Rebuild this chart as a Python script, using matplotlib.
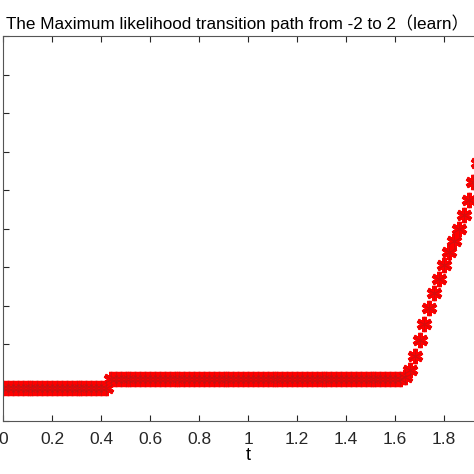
import numpy as np
import matplotlib.pyplot as plt

plt.rcParams['font.family'] = ['Liberation Sans', 'DejaVu Sans']

t = np.arange(0, 2.001, 0.02)
seg1 = [-2.07] * 22
seg2 = [-1.95] * 59
rise = [-1.95, -1.93, -1.84, -1.65, -1.45, -1.24, -1.03, -0.84, -0.65, -0.47,
        -0.31, -0.16, 0.0, 0.18, 0.37, 0.60, 0.85, 1.15, 1.5, 2.0]
x = np.array(seg1 + seg2 + rise)

fig = plt.figure(figsize=(4.74, 4.74), dpi=100)
ax = fig.add_axes([3/474, 53/474, 490/474, 385/474])
ax.plot(t, x, linestyle='none', marker=(6, 2, 0), color='red', markersize=11,
        markeredgecolor='red', markeredgewidth=3.2)
ax.plot(t, x, linestyle='none', marker=(6, 2, 0), markersize=11,
        markeredgecolor='#b01818', markeredgewidth=0.6, alpha=0.5)
ax.set_xlim(0, 2)
ax.set_ylim(-2.5, 2.5)
ax.set_xticks(np.arange(0, 2.01, 0.2))
ax.set_xticklabels(['0', '0.2', '0.4', '0.6', '0.8', '1', '1.2', '1.4', '1.6', '1.8', '2'])
ax.set_yticks(np.arange(-2.5, 2.51, 0.5))
ax.tick_params(direction='in', top=True, right=True, labelsize=12.5, colors='#262626',
               length=4, pad=8)
for s in ax.spines.values():
    s.set_color('#555555')
ax.set_xlabel('t', fontsize=13, labelpad=0)
fig.text(237/474, 1 - 23/474, 'The Maximum likelihood transition path from -2 to 2（learn）',
         ha='center', va='center', fontsize=12.3,
         family=['Liberation Sans', 'Noto Sans CJK SC'])
fig.savefig('out.png')
